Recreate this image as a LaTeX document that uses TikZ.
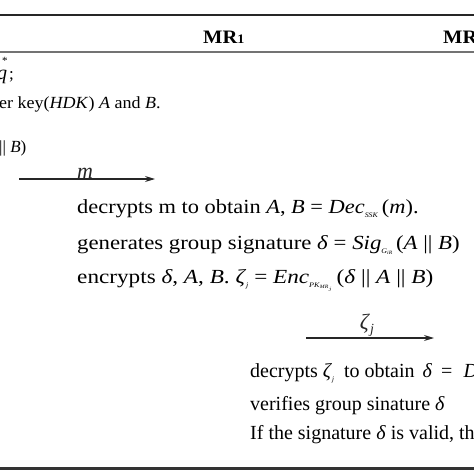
\documentclass[tikz,border=0pt]{standalone}
\usepackage{fontspec}
\setmainfont{Liberation Serif}
\usetikzlibrary{arrows.meta}
\newcommand{\ssub}[1]{\raisebox{-4pt}{\fontsize{7}{7}\selectfont #1}}
\newcommand{\tsub}[1]{\raisebox{-1.5pt}{\fontsize{5}{5}\selectfont #1}}
\begin{document}
\begin{tikzpicture}[x=1pt,y=-1pt,
  txt/.style={anchor=base west, inner sep=0pt, font=\fontsize{20}{20}\selectfont},
  smalltxt/.style={anchor=base west, inner sep=0pt, font=\fontsize{17}{17}\selectfont},
  head/.style={anchor=base west, inner sep=0pt, font=\bfseries\fontsize{19}{19}\selectfont},
  msg/.style={-{Stealth[length=10pt,width=6pt]}, line width=1.1pt, black!85},
  lbl/.style={inner sep=1pt, font=\fontsize{22}{22}\selectfont}]
\useasboundingbox (0,0) rectangle (474,474);
\clip (0,0) rectangle (474,474);
% rules
\draw[line width=2pt, black!85] (0,15) -- (474,15);
\draw[line width=1.4pt, black!55] (0,52) -- (474,52);
\draw[line width=3pt, black!80] (0,468) -- (474,468);
% header
\node[head] (mr1) at (203,43) {\scalebox{1.08}[1]{MR{\fontsize{13}{13}\selectfont 1}}};
\node[head] (mr2) at (443,43) {\scalebox{1.08}[1]{MR{\fontsize{13}{13}\selectfont 2}}};
% top-left fragment
\node[anchor=base west, inner sep=0pt, font=\fontsize{20}{20}\selectfont] (q) at (-3,79)
  {\textit{q}\makebox[0pt][l]{\kern-5pt\raisebox{15pt}{\fontsize{11}{11}\selectfont *}}\kern2pt{\fontsize{17}{17}\selectfont ;}};
\node[smalltxt] (hdk) at (-1,108) {\scalebox{1.06}[1]{er key(\textit{HDK}) \textit{A} and \textit{B}.}};
\node[anchor=base west, inner sep=0pt, font=\fontsize{17}{17}\selectfont] (ab) at (-1,152) {|| \textit{B})};
% message m
\coordinate (m0) at (19,179);
\coordinate (m1) at (155,179);
\draw[msg] (m0) -- node[lbl, above, xshift=-2pt, yshift=-1pt] {\textit{m}} (m1);
% MR1 steps
\node[txt] (l1) at (77,213) {\scalebox{1.12}[1]{decrypts m to obtain \textit{A}, \textit{B} = \textit{Dec}\ssub{\textit{SSK}}\,(\textit{m}).}};
\node[txt] (l2) at (77,249) {\scalebox{1.14}[1]{generates group signature \textit{δ} = \textit{Sig}\ssub{\textit{G}\tsub{\textit{iR}}}\,(\textit{A} || \textit{B})}};
\node[txt] (l3) at (77,283) {\scalebox{1.16}[1]{encrypts \textit{δ}, \textit{A}, \textit{B}. \textit{ζ}\ssub{\textit{j}} = \textit{Enc}\ssub{\textit{PK}\tsub{\textit{MR$_j$}}}\,(\textit{δ} || \textit{A} || \textit{B})}};
% message zeta
\coordinate (z0) at (306,338);
\coordinate (z1) at (434,338);
\draw[msg] (z0) -- node[lbl, above, xshift=-3pt] {\textit{ζ}\raisebox{-4pt}{\fontsize{14}{14}\selectfont\textit{j}}} (z1);
% MR2 steps
\node[txt] (l4) at (250,377) {decrypts \textit{ζ}\ssub{\textit{j}}\hspace{5pt} to obtain\hspace{3pt} \textit{δ}\hspace{4pt} =\hspace{6pt} \textit{Dec}};
\node[txt] (l5) at (250,410) {verifies group sinature \textit{δ}};
\node[txt] (l6) at (250,439) {If the signature \textit{δ} is valid, then};
\end{tikzpicture}
\end{document}
